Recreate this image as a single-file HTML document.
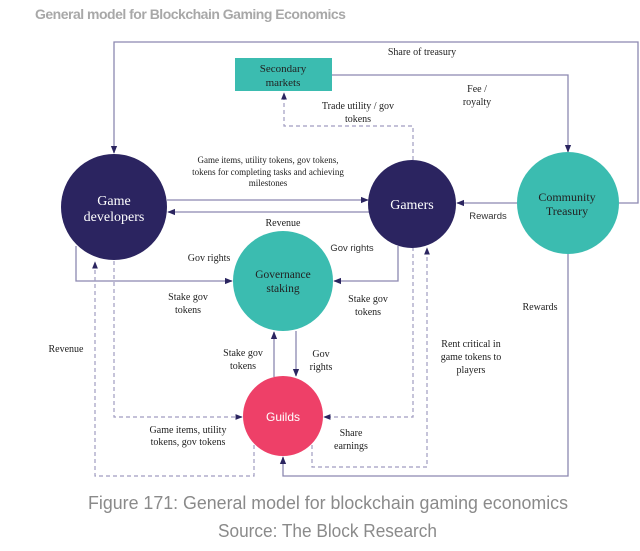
<!DOCTYPE html>
<html><head><meta charset="utf-8"><style>
html,body{margin:0;padding:0;background:#fff;width:640px;height:551px;overflow:hidden}
svg{display:block}
.s{font-family:"Liberation Serif",serif;font-size:10px;fill:#222;text-anchor:middle}
.a{font-family:"Liberation Sans",sans-serif;font-size:9.5px;fill:#333;text-anchor:middle}
</style></head><body>
<svg width="640" height="551" viewBox="0 0 640 551">
<defs>
<marker id="m" viewBox="0 0 10 10" refX="9" refY="5" markerWidth="6" markerHeight="6" orient="auto"><path d="M0,1 L10,5 L0,9 z" fill="#2b2560"/></marker>
</defs>
<text x="35" y="19" font-family="Liberation Sans,sans-serif" font-size="14" font-weight="bold" fill="#a8a8a8" letter-spacing="-0.5">General model for Blockchain Gaming Economics</text>
<g stroke="#8c88b0" stroke-width="1.3" fill="none">
<polyline points="619,203 638,203 638,42 114,42 114,153" marker-end="url(#m)"/>
<polyline points="332,75 568,75 568,152" marker-end="url(#m)"/>
<line x1="167" y1="200" x2="368" y2="200" marker-end="url(#m)"/>
<line x1="369" y1="212" x2="168" y2="212" marker-end="url(#m)"/>
<line x1="517" y1="203" x2="457" y2="203" marker-end="url(#m)"/>
<polyline points="76,246 76,281 232,281" marker-end="url(#m)"/>
<polyline points="398,246 398,281 334,281" marker-end="url(#m)"/>
<line x1="274" y1="377" x2="274" y2="332" marker-end="url(#m)"/>
<line x1="296" y1="331" x2="296" y2="376" marker-end="url(#m)"/>
<polyline points="568,254 568,476 283,476 283,457" marker-end="url(#m)"/>
</g>
<g stroke="#a09cc0" stroke-width="1.2" fill="none" stroke-dasharray="4,3">
<polyline points="413,160 413,126 284,126 284,93" marker-end="url(#m)"/>
<polyline points="114,261 114,417 242,417" marker-end="url(#m)"/>
<polyline points="254,445 254,476 95,476 95,262" marker-end="url(#m)"/>
<polyline points="413,247 413,417 324,417" marker-end="url(#m)"/>
<polyline points="312,445 312,467 427,467 427,248" marker-end="url(#m)"/>
</g>
<rect x="235" y="58" width="97" height="33" fill="#3bbcb0"/>
<text class="s" x="283" y="72" style="font-size:11px">Secondary</text>
<text class="s" x="283" y="86" style="font-size:11px">markets</text>
<circle cx="114" cy="207" r="53" fill="#2b2460"/>
<text class="s" x="114" y="205" style="fill:#fff;font-size:14px">Game</text>
<text class="s" x="114" y="221" style="fill:#fff;font-size:14px">developers</text>
<circle cx="412" cy="204" r="44" fill="#2b2460"/>
<text class="s" x="412" y="209" style="fill:#fff;font-size:14px">Gamers</text>
<circle cx="568" cy="203" r="51" fill="#3bbcb0"/>
<text class="s" x="567" y="201" style="font-size:12px">Community</text>
<text class="s" x="567" y="215" style="font-size:12px">Treasury</text>
<circle cx="283" cy="281" r="50" fill="#3bbcb0"/>
<text class="s" x="283" y="278" style="font-size:11.5px">Governance</text>
<text class="s" x="283" y="292" style="font-size:11.5px">staking</text>
<ellipse cx="283" cy="416" rx="40" ry="40" fill="#ee4068"/>
<text class="a" x="283" y="421" style="fill:#fff;font-size:12px">Guilds</text>
<text class="s" x="422" y="55">Share of treasury</text>
<text class="s" x="477" y="92">Fee /</text><text class="s" x="477" y="105">royalty</text>
<text class="s" x="358" y="109">Trade utility / gov</text><text class="s" x="358" y="122">tokens</text>
<text class="s" x="268" y="163" style="font-size:9px">Game items, utility tokens,  gov tokens,</text>
<text class="s" x="268" y="175" style="font-size:9px">tokens for completing tasks and achieving</text>
<text class="s" x="268" y="186" style="font-size:9px">milestones</text>
<text class="s" x="283" y="226">Revenue</text>
<text class="s" x="209" y="261">Gov rights</text>
<text class="a" x="352" y="251">Gov rights</text>
<text class="a" x="488" y="219">Rewards</text>
<text class="s" x="188" y="300">Stake gov</text><text class="s" x="188" y="313">tokens</text>
<text class="s" x="368" y="302">Stake gov</text><text class="s" x="368" y="315">tokens</text>
<text class="s" x="66" y="352">Revenue</text>
<text class="s" x="540" y="310">Rewards</text>
<text class="s" x="243" y="356">Stake gov</text><text class="s" x="243" y="369">tokens</text>
<text class="s" x="321" y="357">Gov</text><text class="s" x="321" y="370">rights</text>
<text class="s" x="471" y="347">Rent critical in</text><text class="s" x="471" y="360">game tokens to</text><text class="s" x="471" y="373">players</text>
<text class="s" x="188" y="433">Game items, utility</text><text class="s" x="188" y="445">tokens,  gov tokens</text>
<text class="s" x="351" y="436">Share</text><text class="s" x="351" y="449">earnings</text>
<text x="88" y="509" textLength="480" lengthAdjust="spacingAndGlyphs" font-family="Liberation Sans,sans-serif" font-size="18" fill="#8a8a8a">Figure 171: General model for blockchain gaming economics</text>
<text x="218" y="537" textLength="219" lengthAdjust="spacingAndGlyphs" font-family="Liberation Sans,sans-serif" font-size="18" fill="#8a8a8a">Source: The Block Research</text>
</svg>
</body></html>
